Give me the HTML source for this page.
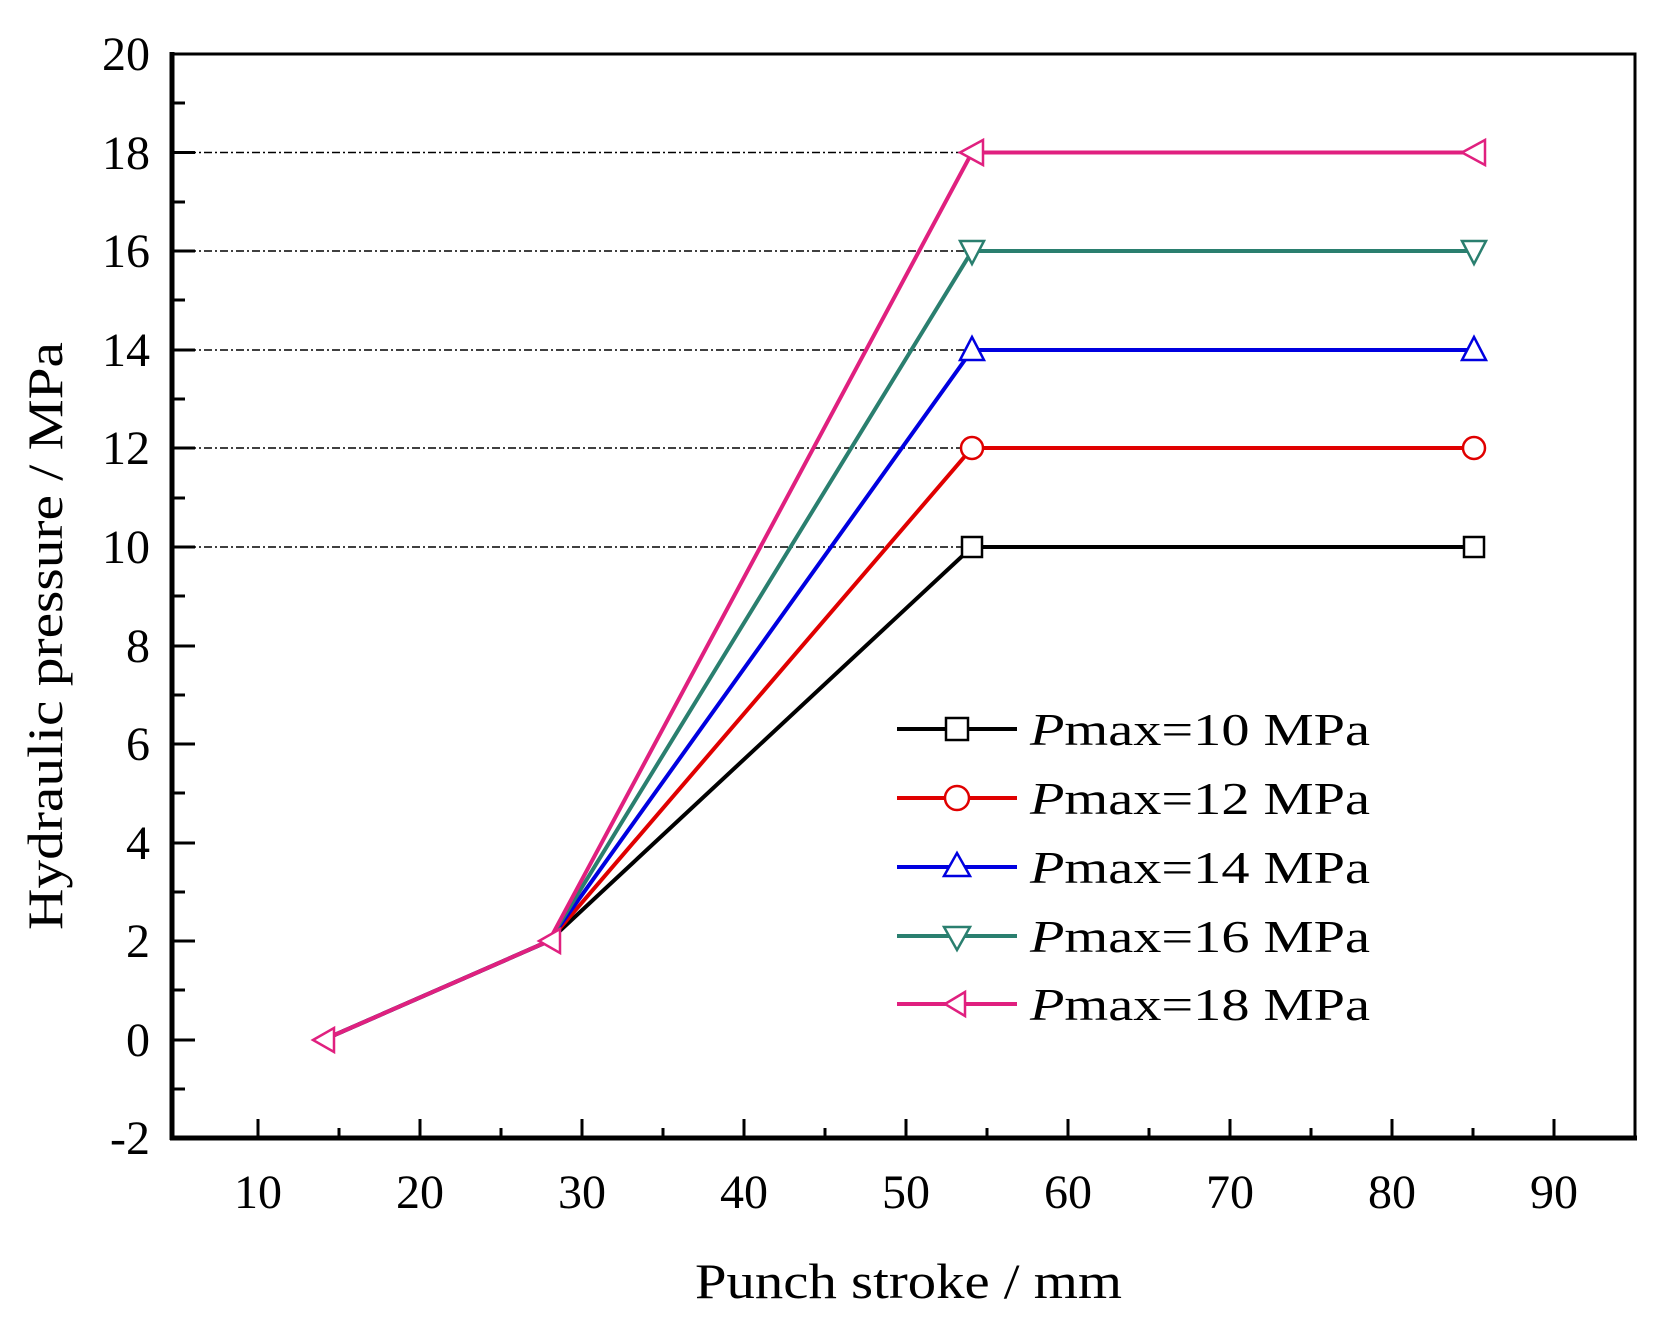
<!DOCTYPE html>
<html><head><meta charset="utf-8"><style>html,body{margin:0;padding:0;background:#fff}svg{display:block}</style></head>
<body>
<svg width="1667" height="1318" viewBox="0 0 1667 1318" xmlns="http://www.w3.org/2000/svg" font-family="'Liberation Serif', serif">
<rect width="1667" height="1318" fill="#fff"/>
<g stroke="#000" stroke-width="1.5" stroke-dasharray="8,3,2,3">
<line x1="172" y1="152.5" x2="972" y2="152.5"/>
<line x1="172" y1="251" x2="972" y2="251"/>
<line x1="172" y1="350" x2="972" y2="350"/>
<line x1="172" y1="448" x2="972" y2="448"/>
<line x1="172" y1="547" x2="972" y2="547"/>
</g>
<rect x="172" y="54" width="1463" height="1084" fill="none" stroke="#000" stroke-width="3"/>
<line x1="172" y1="52" x2="172" y2="1140" stroke="#000" stroke-width="5"/>
<line x1="170" y1="1138" x2="1637" y2="1138" stroke="#000" stroke-width="5"/>
<g stroke="#000" stroke-width="3">
<line x1="172" x2="195" y1="54" y2="54"/><line x1="172" x2="185" y1="103" y2="103"/>
<line x1="172" x2="195" y1="152.5" y2="152.5"/><line x1="172" x2="185" y1="202" y2="202"/>
<line x1="172" x2="195" y1="251" y2="251"/><line x1="172" x2="185" y1="300" y2="300"/>
<line x1="172" x2="195" y1="350" y2="350"/><line x1="172" x2="185" y1="399" y2="399"/>
<line x1="172" x2="195" y1="448" y2="448"/><line x1="172" x2="185" y1="498" y2="498"/>
<line x1="172" x2="195" y1="547" y2="547"/><line x1="172" x2="185" y1="596" y2="596"/>
<line x1="172" x2="195" y1="646" y2="646"/><line x1="172" x2="185" y1="695" y2="695"/>
<line x1="172" x2="195" y1="744" y2="744"/><line x1="172" x2="185" y1="793" y2="793"/>
<line x1="172" x2="195" y1="843" y2="843"/><line x1="172" x2="185" y1="892" y2="892"/>
<line x1="172" x2="195" y1="941" y2="941"/><line x1="172" x2="185" y1="990" y2="990"/>
<line x1="172" x2="195" y1="1040" y2="1040"/><line x1="172" x2="185" y1="1089" y2="1089"/>
</g>
<g stroke="#000" stroke-width="3">
<line x1="258" x2="258" y1="1138" y2="1119"/><line x1="339" x2="339" y1="1138" y2="1128"/>
<line x1="420" x2="420" y1="1138" y2="1119"/><line x1="501" x2="501" y1="1138" y2="1128"/>
<line x1="582" x2="582" y1="1138" y2="1119"/><line x1="663" x2="663" y1="1138" y2="1128"/>
<line x1="744" x2="744" y1="1138" y2="1119"/><line x1="825" x2="825" y1="1138" y2="1128"/>
<line x1="906" x2="906" y1="1138" y2="1119"/><line x1="987" x2="987" y1="1138" y2="1128"/>
<line x1="1068" x2="1068" y1="1138" y2="1119"/><line x1="1149" x2="1149" y1="1138" y2="1128"/>
<line x1="1230" x2="1230" y1="1138" y2="1119"/><line x1="1311" x2="1311" y1="1138" y2="1128"/>
<line x1="1392" x2="1392" y1="1138" y2="1119"/><line x1="1473" x2="1473" y1="1138" y2="1128"/>
<line x1="1554" x2="1554" y1="1138" y2="1119"/>
</g>
<g font-size="48" text-anchor="end">
<text x="150" y="70">20</text><text x="150" y="169">18</text><text x="150" y="267">16</text>
<text x="150" y="366">14</text><text x="150" y="464">12</text><text x="150" y="563">10</text>
<text x="150" y="662">8</text><text x="150" y="760">6</text><text x="150" y="859">4</text>
<text x="150" y="957">2</text><text x="150" y="1056">0</text><text x="150" y="1154">-2</text>
</g>
<g font-size="48" text-anchor="middle">
<text x="258" y="1208">10</text><text x="420" y="1208">20</text><text x="582" y="1208">30</text>
<text x="744" y="1208">40</text><text x="906" y="1208">50</text><text x="1068" y="1208">60</text>
<text x="1230" y="1208">70</text><text x="1392" y="1208">80</text><text x="1554" y="1208">90</text>
</g>
<text x="695" y="1298" font-size="50" textLength="427" lengthAdjust="spacingAndGlyphs">Punch stroke / mm</text>
<text transform="translate(62,930) rotate(-90)" font-size="50" textLength="588" lengthAdjust="spacingAndGlyphs">Hydraulic pressure / MPa</text>
<g fill="none" stroke-width="4">
<polyline stroke="#000" points="323,1040 549,941 972,547 1474,547"/>
<polyline stroke="#e00000" points="323,1040 549,941 972,448 1474,448"/>
<polyline stroke="#0000e0" points="323,1040 549,941 972,350 1474,350"/>
<polyline stroke="#2a7f6f" points="323,1040 549,941 972,251 1474,251"/>
<polyline stroke="#e0207f" points="323,1040 549,941 972,152.5 1474,152.5"/>
</g>
<g fill="#fff" stroke-width="2.5">
<rect x="962" y="537" width="20" height="20" stroke="#000"/><rect x="1464" y="537" width="20" height="20" stroke="#000"/>
<circle cx="972" cy="448" r="11" stroke="#e00000"/><circle cx="1474" cy="448" r="11" stroke="#e00000"/>
<polygon points="972,337 960,360 984,360" stroke="#0000e0"/><polygon points="1474,337 1462,360 1486,360" stroke="#0000e0"/>
<polygon points="960,241 984,241 972,264" stroke="#2a7f6f"/><polygon points="1462,241 1486,241 1474,264" stroke="#2a7f6f"/>
<polygon points="960,152.5 983,140 983,165" stroke="#e0207f"/><polygon points="1462,152.5 1485,140 1485,165" stroke="#e0207f"/>
<polygon points="539,941 560,929 560,953" stroke="#e0207f"/>
<polygon points="313,1040 334,1028 334,1052" stroke="#e0207f"/>
</g>
<g stroke-width="4">
<line x1="897" x2="1017" y1="729" y2="729" stroke="#000"/>
<line x1="897" x2="1017" y1="798" y2="798" stroke="#e00000"/>
<line x1="897" x2="1017" y1="867" y2="867" stroke="#0000e0"/>
<line x1="897" x2="1017" y1="936" y2="936" stroke="#2a7f6f"/>
<line x1="897" x2="1017" y1="1004" y2="1004" stroke="#e0207f"/>
</g>
<g fill="#fff" stroke-width="2.5">
<rect x="946" y="718" width="22" height="22" stroke="#000"/>
<circle cx="957" cy="798" r="12" stroke="#e00000"/>
<polygon points="957,853 944,876 970,876" stroke="#0000e0"/>
<polygon points="944,927 970,927 957,950" stroke="#2a7f6f"/>
<polygon points="945,1004 965,992 965,1016" stroke="#e0207f"/>
</g>
<g font-size="46">
<text x="1030" y="745" textLength="340" lengthAdjust="spacingAndGlyphs"><tspan font-style="italic">P</tspan>max=10 MPa</text>
<text x="1030" y="814" textLength="340" lengthAdjust="spacingAndGlyphs"><tspan font-style="italic">P</tspan>max=12 MPa</text>
<text x="1030" y="883" textLength="340" lengthAdjust="spacingAndGlyphs"><tspan font-style="italic">P</tspan>max=14 MPa</text>
<text x="1030" y="952" textLength="340" lengthAdjust="spacingAndGlyphs"><tspan font-style="italic">P</tspan>max=16 MPa</text>
<text x="1030" y="1020" textLength="340" lengthAdjust="spacingAndGlyphs"><tspan font-style="italic">P</tspan>max=18 MPa</text>
</g>
</svg>
</body></html>
